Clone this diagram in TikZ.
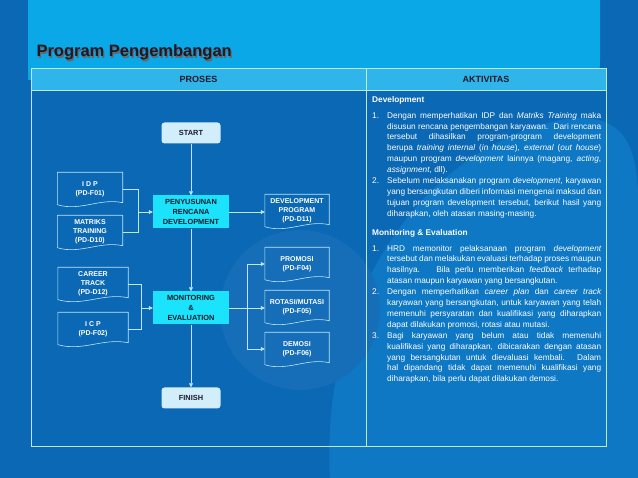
\documentclass[tikz,border=0pt]{standalone}
\usepackage{fontspec}
\setmainfont{Liberation Sans}
\usetikzlibrary{arrows.meta,calc}
\definecolor{bgdark}{HTML}{0B68B4}
\definecolor{band}{HTML}{0BA8E8}
\definecolor{swirl}{HTML}{0E78C4}
\definecolor{lineblue}{HTML}{BFE6FA}
\definecolor{cyanbox}{HTML}{1BE3FB}
\definecolor{startbox}{HTML}{D3EEFB}
\definecolor{txtdark}{HTML}{1A1A2A}
\begin{document}
\begin{tikzpicture}[x=1pt,y=-1pt,
  proc/.style={fill=cyanbox,minimum width=76pt,minimum height=33pt,align=center,text=txtdark,font=\fontsize{7.4}{9.6}\selectfont\bfseries,inner sep=1pt},
  term/.style={fill=startbox,rounded corners=3pt,minimum width=59pt,minimum height=21pt,text=txtdark,font=\fontsize{7.4}{8}\selectfont\bfseries},
  doc/.style={minimum height=33pt,align=center,text=white,font=\fontsize{7}{8.8}\selectfont\bfseries,inner sep=1pt},
  docline/.style={draw=lineblue,line width=0.6pt},
  conn/.style={draw=lineblue,line width=0.7pt},
  arr/.style={conn,-{Triangle[length=4pt,width=4pt]}},
  body/.style={text=white,font=\fontsize{8.3}{10.9}\selectfont}]
\newcommand\docshape[1]{\draw[docline] ($(#1.south west)+(0,-1)$) -- (#1.north west) -- (#1.north east) -- ($(#1.south east)+(0,-3)$) .. controls ($(#1.south)+(10,-8)$) and ($(#1.south)+(-10,6)$) .. ($(#1.south west)+(0,-1)$);}
% background
\fill[bgdark] (0,0) rectangle (638,478);
\fill[swirl] (330,478) .. controls (320,300) and (420,150) .. (560,120) .. controls (620,110) and (638,140) .. (638,200) -- (638,478) -- cycle;
\fill[bgdark!96!white] (300,310) circle (80);
\fill[band] (28,0) -- (600,0) -- (600,62) .. controls (600,76) and (594,80) .. (580,80) -- (28,80) -- cycle;
\useasboundingbox (0,0) rectangle (638,478);
% title
\node[anchor=base west,font=\fontsize{16.5}{18}\selectfont\bfseries,text=black!60] (tsh) at (34.2,58.2) {Program Pengembangan};
\node[anchor=base west,font=\fontsize{16.5}{18}\selectfont\bfseries,text=txtdark] (title) at (33,57) {Program Pengembangan};
% table
\fill[band!85!white] (31,68) rectangle (606,90);
\draw[lineblue,line width=0.8pt] (31,68) rectangle (606,446);
\draw[lineblue,line width=0.8pt] (31,90) -- (606,90);
\draw[lineblue,line width=0.8pt] (366,68) -- (366,446);
\node[font=\fontsize{9}{10}\selectfont\bfseries,text=txtdark] (hp) at (198.5,79) {PROSES};
\node[font=\fontsize{9}{10}\selectfont\bfseries,text=txtdark] (ha) at (486,79) {AKTIVITAS};
% flow nodes
\node[term] (start) at (191,133) {START};
\node[proc] (pen) at (191,212) {PENYUSUNAN\\RENCANA\\DEVELOPMENT};
\node[proc] (mon) at (191,308) {MONITORING\\\&\\EVALUATION};
\node[term] (fin) at (191,398) {FINISH};
\node[doc,minimum width=65pt] (idp) at (90,189) {I D P\\(PD-F01)};
\node[doc,minimum width=65pt] (mat) at (90,232) {MATRIKS\\TRAINING\\(PD-D10)};
\node[doc,minimum width=70pt] (car) at (93,284) {CAREER\\TRACK\\(PD-D12)};
\node[doc,minimum width=70pt] (icp) at (93,329) {I C P\\(PD-F02)};
\node[doc,minimum width=64pt] (dev) at (297,211) {DEVELOPMENT\\PROGRAM\\(PD-D11)};
\node[doc,minimum width=64pt] (pro) at (297,264) {PROMOSI\\(PD-F04)};
\node[doc,minimum width=64pt] (rot) at (297,307) {ROTASI/MUTASI\\(PD-F05)};
\node[doc,minimum width=64pt] (dem) at (297,349) {DEMOSI\\(PD-F06)};
\foreach \n in {idp,mat,car,icp,dev,pro,rot,dem}{\docshape{\n}}
\coordinate (jl1) at (138,212);
\coordinate (jl2) at (141,308);
\coordinate (jr) at (247,308);
% connectors
\draw[arr] (start) -- (pen);
\draw[arr] (pen) -- (mon);
\draw[arr] (mon) -- (fin);
\draw[conn] (idp.east) -| (jl1);
\draw[conn] (mat.east) -| (jl1);
\draw[arr] (jl1) -- (pen.west);
\draw[conn] (car.east) -| (jl2);
\draw[conn] (icp.east) -| (jl2);
\draw[arr] (jl2) -- (mon.west);
\draw[arr] (pen.east) -- (pen.east -| dev.west);
\draw[conn] (mon.east) -- (jr);
\draw[arr] (jr) |- (pro.west);
\draw[arr] (jr) -- (jr -| rot.west);
\draw[arr] (jr) |- (dem.west);
% text
\node[body,anchor=north west,text width=229pt,align=justify,inner sep=0pt] (txt) at (372,96) {%
\hyphenpenalty=10000\exhyphenpenalty=10000\emergencystretch=20pt
\textbf{Development}\par\vspace{5pt}
\hangindent=15pt\hangafter=1\noindent\makebox[15pt][l]{1.}Dengan memperhatikan IDP dan \textit{Matriks Training} maka disusun rencana pengembangan karyawan. \ Dari rencana tersebut dihasilkan program-program development berupa \textit{training internal} (\textit{in house}), \textit{external} (\textit{out house}) maupun program \textit{development} lainnya (magang, \textit{acting}, \textit{assignment}, dll).\par
\hangindent=15pt\hangafter=1\noindent\makebox[15pt][l]{2.}Sebelum melaksanakan program \textit{development}, karyawan yang bersangkutan diberi informasi mengenai maksud dan tujuan program development tersebut, berikut hasil yang diharapkan, oleh atasan masing-\hskip0pt masing.\par\vspace{8pt}
\noindent\textbf{Monitoring \& Evaluation}\par\vspace{5pt}
\hangindent=15pt\hangafter=1\noindent\makebox[15pt][l]{1.}HRD memonitor pelaksanaan program \textit{development} tersebut dan melakukan evaluasi terhadap proses maupun hasilnya. \ Bila perlu memberikan \textit{feedback} terhadap atasan maupun karyawan yang bersangkutan.\par
\hangindent=15pt\hangafter=1\noindent\makebox[15pt][l]{2.}Dengan memperhatikan \textit{career plan} dan \textit{career track} karyawan yang bersangkutan, untuk karyawan yang telah memenuhi persyaratan dan kualifikasi yang diharapkan dapat dilakukan promosi, rotasi atau mutasi.\par
\hangindent=15pt\hangafter=1\noindent\makebox[15pt][l]{3.}Bagi karyawan yang belum atau tidak memenuhi kualifikasi yang diharapkan, dibicarakan dengan atasan yang bersangkutan untuk dievaluasi kembali. Dalam hal dipandang tidak dapat memenuhi kualifikasi yang diharapkan, bila perlu dapat dilakukan demosi.\par};
\end{tikzpicture}
\end{document}
